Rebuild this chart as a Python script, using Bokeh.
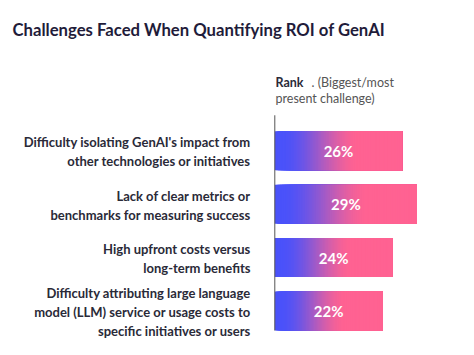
import numpy as np
from bokeh.plotting import figure
from bokeh.models import Range1d, Label
from bokeh.core.properties import value
from bokeh.embed import file_html
from bokeh.resources import INLINE

# ---- data ----
categories = [
    "Difficulty isolating GenAI's impact from\nother technologies or initiatives",
    "Lack of clear metrics or\nbenchmarks for measuring success",
    "High upfront costs versus\nlong-term benefits",
    "Difficulty attributing large language\nmodel (LLM) service or usage costs to\nspecific initiatives or users",
]
shares = [26, 29, 24, 22]
value_labels = ["26%", "29%", "24%", "22%"]
title_text = "Challenges Faced When Quantifying ROI of GenAI"
rank_bold = "Rank"
rank_rest = ". (Biggest/most"
rank_line2 = "present challenge)"

# ---- layout (reference pixel geometry) ----
W, H = 458, 339
X0_PX, PX_PER_UNIT = 274.3, 4.9      # x=0 position and px per percent
Y0_PX, PX_PER_ROW = 150.3, 53.4      # first bar centre and row pitch
OFFSET = 0

def px_x(X):
    return (X - X0_PX) / PX_PER_UNIT

def px_y(Y):
    return (Y - Y0_PX) / PX_PER_ROW

p = figure(width=W, height=H, output_backend="svg", toolbar_location=None,
           x_range=Range1d(px_x(OFFSET), px_x(OFFSET + W)),
           y_range=Range1d(px_y(OFFSET + H), px_y(OFFSET)),
           min_border=0, background_fill_color="white", border_fill_color="white")
p.axis.visible = False
p.grid.visible = False
p.outline_line_color = None

BAR_H = 39 / PX_PER_ROW
FONT = "Lato"

blue = np.array([74, 82, 250])
pink = np.array([255, 98, 146])

def grad_color(t):
    a, b = 0.05, 0.66
    s = np.clip((t - a) / (b - a), 0, 1)
    s = s * s * (3 - 2 * s)
    c = blue + (pink - blue) * s
    return "#%02x%02x%02x" % tuple(int(round(v)) for v in c)

N = 80
ys = list(range(len(shares)))
lefts, rights, tops, bottoms, colors = [], [], [], [], []
for yi, v in zip(ys, shares):
    for k in range(N):
        t = k / N
        lefts.append(v * t)
        rights.append(v)
        tops.append(yi - BAR_H / 2)
        bottoms.append(yi + BAR_H / 2)
        colors.append(grad_color(t + 0.5 / N))
p.quad(left=lefts, right=rights, top=tops, bottom=bottoms,
       fill_color=colors, line_color=None)

# vertical axis line
p.segment(x0=[0], x1=[0], y0=[ys[0] - BAR_H / 2 - 0.3], y1=[ys[-1] + BAR_H / 2],
          line_color="#555555", line_width=1)

# value labels
p.text(x=[v / 2 for v in shares], y=ys, text=value_labels,
       text_align="center", text_baseline="middle",
       text_font=value(FONT), text_font_style="bold", text_font_size="15px",
       text_color="white")

# category labels
p.text(x=[px_x(250)] * len(categories), y=[yi + 0.02 for yi in ys], text=categories,
       text_align="right", text_baseline="middle",
       text_font=value(FONT), text_font_style="bold", text_font_size="13px",
       text_color="#2a2a38", text_line_height=1.2)

# title
p.add_layout(Label(x=px_x(12), y=px_y(29), text=title_text,
                   text_font=FONT, text_font_style="bold", text_font_size="16.7px",
                   text_color="#1f1c3a", text_baseline="alphabetic"))
# rank header
p.add_layout(Label(x=px_x(275), y=px_y(82), text=rank_bold,
                   text_font=FONT, text_font_style="bold", text_font_size="12.5px",
                   text_color="#2a2a38", text_baseline="alphabetic"))
p.add_layout(Label(x=px_x(311), y=px_y(82), text=rank_rest,
                   text_font=FONT, text_font_size="12.5px",
                   text_color="#555555", text_baseline="alphabetic"))
p.add_layout(Label(x=px_x(275), y=px_y(98), text=rank_line2,
                   text_font=FONT, text_font_size="12.5px",
                   text_color="#555555", text_baseline="alphabetic"))

open("out.html", "w").write(file_html(p, INLINE))
